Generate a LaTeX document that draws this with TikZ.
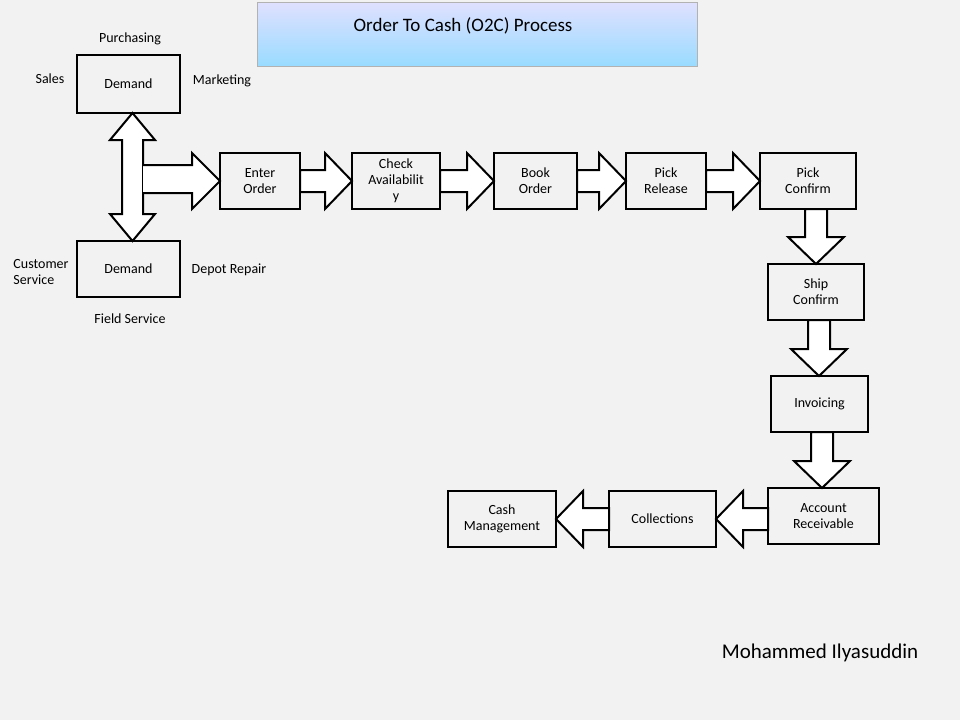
\documentclass[tikz,border=0pt]{standalone}
\usepackage{fontspec}
\setmainfont{Carlito}
\usetikzlibrary{calc}
\begin{document}
\begin{tikzpicture}[x=1pt,y=-1pt,
  box/.style={draw,line width=2pt,align=center,font=\fontsize{14}{16}\selectfont,inner sep=0pt},
  lbl/.style={font=\fontsize{14}{16}\selectfont,align=left},
  blk/.style={draw,line width=2pt,fill=white,line join=miter}]
\useasboundingbox[fill=black!5] (0,0) rectangle (960,720);
\newcommand{\rarr}[4]{% x1 x2 yc headlen
  \draw[blk] (#1,#3-11)--(#2-#4,#3-11)--(#2-#4,#3-28)--(#2,#3)--(#2-#4,#3+28)--(#2-#4,#3+11)--(#1,#3+11)--cycle;}
\newcommand{\darr}[4]{% y1 y2 xc headlen
  \draw[blk] (#3-11,#1)--(#3-11,#2-#4)--(#3-28,#2-#4)--(#3,#2)--(#3+28,#2-#4)--(#3+11,#2-#4)--(#3+11,#1)--cycle;}
\newcommand{\larr}[4]{% x1(right) x2(left) yc headlen
  \draw[blk] (#1,#3-11)--(#2+#4,#3-11)--(#2+#4,#3-28)--(#2,#3)--(#2+#4,#3+28)--(#2+#4,#3+11)--(#1,#3+11)--cycle;}
\shade[top color=blue!12,bottom color=blue!35!cyan!40,draw=black!30] (257,2) rectangle (697,66);
\node[font=\fontsize{19}{22}\selectfont] (title) at (463,26) {Order To Cash (O2C) Process};
\node[box,minimum width=103,minimum height=58] (d1) at (128.5,84) {Demand};
\node[box,minimum width=103,minimum height=56] (d2) at (128.5,269) {Demand};
\node[box,minimum width=80,minimum height=56] (eo) at (260,181) {Enter\\Order};
\node[box,minimum width=88,minimum height=56] (ca) at (396,181) {Check\\Availabilit\\y};
\node[box,minimum width=83,minimum height=56] (bo) at (535.5,181) {Book\\Order};
\node[box,minimum width=80,minimum height=56] (pr) at (666,181) {Pick\\Release};
\node[box,minimum width=96,minimum height=56] (pc) at (808,181) {Pick\\Confirm};
\node[box,minimum width=96,minimum height=56] (sc) at (816,292) {Ship\\Confirm};
\node[box,minimum width=97,minimum height=56] (iv) at (819.5,404) {Invoicing};
\node[box,minimum width=111,minimum height=56] (ar) at (823.5,516) {Account\\Receivable};
\node[box,minimum width=107,minimum height=56] (co) at (662.5,519) {Collections};
\node[box,minimum width=108,minimum height=56] (cm) at (502,519) {Cash\\Management};
\node[lbl] (l1) at (130,39) {Purchasing};
\node[lbl] (l2) at (50,79) {Sales};
\node[lbl] (l3) at (222,81) {Marketing};
\node[lbl] (l4) at (41,272) {Customer\\Service};
\node[lbl] (l5) at (229,270) {Depot Repair};
\node[lbl] (l6) at (130,319) {Field Service};
\node[font=\fontsize{21}{24}\selectfont] (au) at (820,653) {Mohammed Ilyasuddin};
% double arrow
\draw[blk] (122,140)--(110,140)--(132.5,113)--(155,140)--(143,140)--(143,214)--(155,214)--(132.5,241)--(110,214)--(122,214)--cycle;
\draw[blk] (143,165)--(192,165)--(192,153)--(220,181)--(192,209)--(192,193)--(143,193);
\rarr{300}{352}{181}{27}
\rarr{440}{494}{181}{27}
\rarr{577}{626}{181}{27}
\rarr{706}{760}{181}{27}
\darr{209}{264}{816}{27}
\darr{320}{376}{819}{27}
\darr{432}{488}{822}{27}
\larr{768}{716}{519}{27}
\larr{609}{556}{519}{27}
\end{tikzpicture}
\end{document}
